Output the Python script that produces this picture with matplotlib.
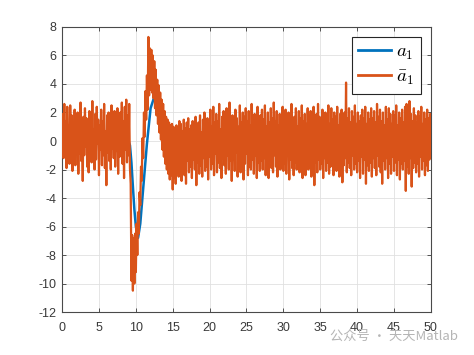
import numpy as np
import matplotlib
matplotlib.use("Agg")
import matplotlib.pyplot as plt

plt.rcParams['axes.unicode_minus'] = False
plt.rcParams['mathtext.fontset'] = 'cm'
plt.rcParams['font.family'] = ['Liberation Sans', 'DejaVu Sans']

# smooth signal a_1 (key points)
blue_x = [0, 9.0, 9.2, 9.4, 9.6, 9.8, 10.0, 10.3, 10.6, 11.0, 11.5, 12.0, 12.5,
          13.0, 13.5, 14.0, 14.5, 15.0, 16.0, 50]
blue_y = [0, 0, -0.3, -1.5, -3.2, -4.8, -6.0, -6.8, -5.8, -3.3, -0.2, 2.3, 3.1,
          2.5, 1.6, 0.8, 0.3, 0.1, 0, 0]

# noisy signal bar a_1, sampled every 0.1 from 0 to 50
orange_start = 0.0
orange_step = 0.1
orange_y = [
    0.3, 1.9, -1.2, 2.6, -0.8, 1.4, -1.9, 2.4, -0.5, 1.1,
    -1.6, 2.5, -0.3, 1.8, -2.1, 0.9, -1.1, 2.2, -1.7, 1.5,
    -0.6, 2.0, -2.3, 1.2, -0.9, 2.7, -1.4, 0.6, -2.8, 1.7,
    -1.0, 2.3, -0.4, 1.6, -1.8, 1.0, -2.2, 2.1, -0.7, 1.3,
    -1.5, 2.8, -0.9, 0.8, -2.0, 1.9, -1.3, 2.4, -0.2, 1.5,
    -2.4, 1.1, -0.6, 2.2, -1.7, 1.4, -1.0, 2.6, -1.9, 0.7,
    -3.1, 1.8, -0.8, 2.0, -1.4, 1.2, -2.0, 2.5, -0.5, 1.6,
    -1.2, 2.1, -1.8, 0.9, -0.7, 2.3, -2.3, 1.7, -1.1, 2.0,
    -0.9, 2.7, -1.6, 1.4, -2.6, 2.4, -0.6, 2.9, -1.5, 1.8,
    -1.0, 2.6, -1.9, -3.0, -9.8, -6.6, -10.5, -6.8, -10.0, -6.5,
    -9.2, -5.8, -8.0, -5.0, -6.5, -3.6, -4.5, -1.8, -2.8, 0.2,
    -1.2, 2.0, 0.3, 3.5, 1.5, 4.6, 2.2, 7.3, 3.2, 6.5,
    3.6, 6.4, 3.4, 6.0, 3.0, 5.6, 2.3, 5.0, 1.8, 4.3,
    1.2, 3.9, 0.6, 3.4, 0.1, 2.9, -0.6, 2.6, -1.1, 2.1,
    -1.6, 1.7, -2.0, 1.5, -2.3, 1.3, -2.7, 1.1, -2.4, 1.2,
    -3.4, 1.0, -2.6, 0.9, -3.0, 1.1, -2.2, 0.8, -2.5, 1.4,
    -1.9, 1.2, -2.8, 0.7, -1.6, 1.5, -2.4, 0.9, -3.0, 1.3,
    -1.4, 1.6, -2.2, 0.8, -1.8, 1.1, -2.6, 1.4, -1.3, 0.9,
    -2.0, 1.7, -3.1, 1.0, -1.5, 1.3, -2.3, 1.8, -1.7, 0.6,
    -2.5, 1.5, -1.2, 2.0, -2.1, 0.9, -1.8, 1.6, -2.7, 1.2,
    -1.1, 2.2, -2.0, 1.0, -1.6, 2.4, -2.4, 1.3, -0.9, 1.9,
    -2.2, 1.4, -1.5, 2.6, -1.9, 0.8, -2.6, 1.7, -1.2, 2.1,
    -1.7, 1.1, -2.3, 2.3, -1.0, 1.5, -2.0, 2.7, -1.4, 0.9,
    -2.8, 1.8, -1.3, 1.2, -2.1, 2.2, -0.8, 1.6, -2.5, 1.0,
    -1.5, 2.5, -2.2, 1.3, -1.1, 2.0, -2.7, 1.7, -1.6, 2.3,
    -0.9, 1.4, -2.4, 2.1, -1.8, 1.1, -2.0, 2.6, -1.3, 1.5,
    -2.3, 1.9, -1.0, 1.2, -2.6, 2.4, -1.5, 0.9, -2.1, 1.8,
    -1.4, 2.2, -2.0, 1.5, -1.2, 2.5, -2.4, 1.0, -1.7, 2.0,
    -2.6, 1.3, -1.1, 2.3, -1.9, 1.6, -2.2, 2.7, -1.0, 1.4,
    -1.8, 2.1, -2.5, 1.1, -1.4, 1.9, -2.0, 1.4, -1.2, 2.4,
    -2.1, 1.6, -1.6, 2.2, -2.3, 1.2, -1.0, 2.0, -2.7, 1.5,
    -1.3, 2.6, -1.9, 1.3, -2.4, 1.7, -1.5, 2.3, -2.0, 1.0,
    -1.6, 2.1, -2.2, 1.6, -1.2, 2.5, -2.6, 1.4, -1.8, 1.9,
    -2.4, 1.2, -1.4, 2.3, -2.0, 1.8, -1.1, 2.1, -2.5, 1.5,
    -1.7, 2.4, -3.1, 1.1, -1.5, 1.9, -2.2, 2.6, -1.3, 1.7,
    -2.0, 1.4, -1.6, 2.2, -2.6, 1.3, -1.2, 2.0, -2.1, 1.6,
    -1.5, 2.5, -2.3, 1.2, -1.8, 2.3, -1.4, 1.5, -2.4, 2.0,
    -1.1, 1.7, -2.1, 2.4, -1.6, 1.1, -2.5, 1.9, -1.3, 2.2,
    -2.9, 1.5, -1.7, 2.0, -1.2, 4.1, -2.2, 1.6, -1.5, 2.3,
    -1.9, 1.3, -2.4, 2.1, -1.0, 1.7, -2.0, 2.5, -1.6, 1.2,
    -2.2, 2.0, -1.4, 1.4, -2.6, 1.8, -1.1, 2.2, -2.3, 1.6,
    -1.3, 2.4, -3.0, 1.2, -1.7, 2.0, -2.1, 1.5, -1.5, 2.3,
    -2.5, 1.6, -1.2, 2.1, -1.9, 1.3, -2.4, 2.6, -1.0, 1.7,
    -1.8, 2.2, -2.2, 1.4, -3.0, 2.0, -1.4, 1.1, -2.0, 2.4,
    -1.2, 1.5, -2.6, 2.3, -1.6, 1.9, -2.3, 1.2, -1.1, 2.1,
    -2.1, 1.8, -1.5, 2.5, -2.4, 1.1, -1.3, 2.0, -2.7, 1.6,
    -1.6, 2.2, -2.0, 1.3, -1.4, 2.4, -3.5, 2.6, -1.8, 1.5,
    -2.3, 2.8, -1.2, 1.9, -3.2, 1.4, -1.9, 2.3, -1.5, 1.8,
    -2.2, 1.3, -1.6, 2.1, -2.5, 1.7, -1.1, 2.4, -2.0, 1.2,
    -1.4, 2.0, -2.4, 1.5, -1.7, 2.2, -2.1, 1.6, -1.3, 1.9,
    -0.5,
]
orange_x = orange_start + orange_step * np.arange(len(orange_y))

x_ticks = [0, 5, 10, 15, 20, 25, 30, 35, 40, 45, 50]
y_ticks = [-12, -10, -8, -6, -4, -2, 0, 2, 4, 6, 8]
legend_labels = [r'$a_1$', r'$\bar{a}_1$']
watermark = '公众号 · 天天Matlab'

fig = plt.figure(figsize=(4.74, 3.55), dpi=100)
ax = fig.add_axes([0.131, 0.121, 0.778, 0.803])

ax.plot(blue_x, blue_y, color='#0072BD', lw=1.8, label=legend_labels[0], zorder=2)
ax.plot(orange_x, orange_y, color='#D95319', lw=1.6, label=legend_labels[1], zorder=3)

ax.set_xlim(0, 50)
ax.set_ylim(-12, 8)
ax.set_xticks(x_ticks)
ax.set_yticks(y_ticks)
ax.tick_params(direction='in', top=True, right=True, labelsize=9,
               colors='#3a3a3a', length=3, width=0.6)
ax.tick_params(axis='x', pad=7)
ax.tick_params(axis='y', pad=4)
for sp in ax.spines.values():
    sp.set_color('#4a4a4a')
    sp.set_linewidth(0.8)
ax.grid(True, color='#e0e0e0', lw=0.6)
ax.set_axisbelow(True)

leg = ax.legend(loc='upper right', fontsize=13.5, fancybox=False, framealpha=1,
                edgecolor='#262626', handlelength=1.75, borderpad=0.35,
                labelspacing=0.35, handletextpad=0.25, borderaxespad=0.55)
leg.get_frame().set_linewidth(0.8)
for line in leg.get_lines():
    line.set_linewidth(2.0)

fig.text(0.966, 0.052, watermark, ha='right', va='center', fontsize=9.5,
         color='#b5b5b5', family=['Noto Sans CJK SC', 'DejaVu Sans'])

fig.savefig('out.png', dpi=100)
